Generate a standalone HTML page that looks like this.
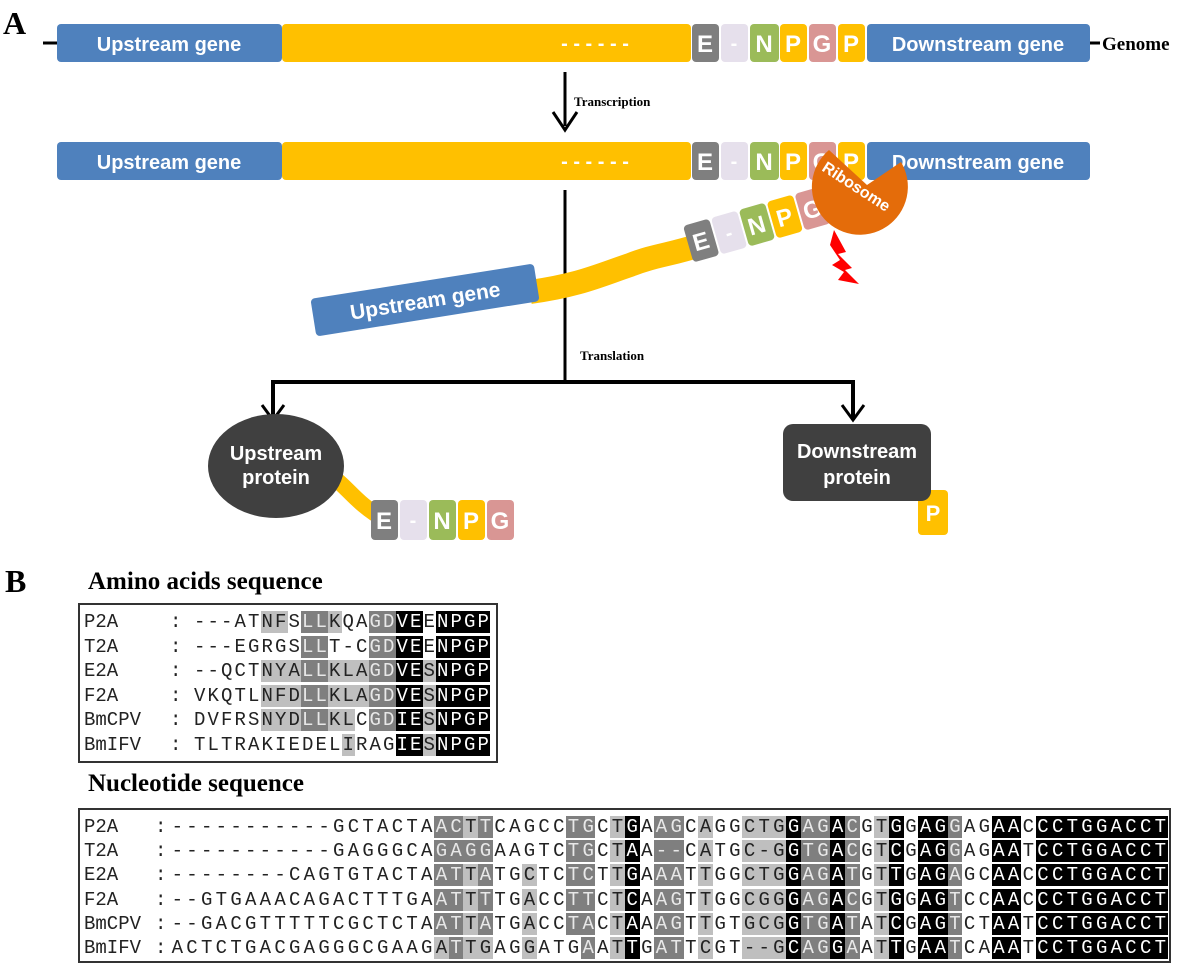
<!DOCTYPE html>
<html><head><meta charset="utf-8">
<style>
body{margin:0;background:#fff;}
#wrap{position:relative;width:1200px;height:972px;overflow:hidden;background:#fff;}
svg{position:absolute;left:0;top:0;}
.h{position:absolute;font-family:"Liberation Serif",serif;font-weight:bold;color:#000;}
.box{position:absolute;border:2px solid #333;box-sizing:border-box;}
.row{position:absolute;font-family:"Liberation Mono",monospace;color:#222;white-space:pre;}
.row span{display:inline-block;text-align:center;height:100%;}
.k{background:#000;color:#fff;}
.d{background:#7f7f7f;color:#e8e8e8;}
.l{background:#bfbfbf;}
</style></head><body><div id="wrap">
<svg width="1200" height="972" viewBox="0 0 1200 972" font-family="'Liberation Sans Narrow','Liberation Sans',sans-serif">
<text x="3" y="34" font-family="'Liberation Serif',serif" font-weight="bold" font-size="32">A</text>
<line x1="43" y1="43" x2="57" y2="43" stroke="#000" stroke-width="3"/>
<line x1="1090" y1="43" x2="1100" y2="43" stroke="#000" stroke-width="3"/>
<text x="1102" y="50" font-family="'Liberation Serif',serif" font-weight="bold" font-size="19">Genome</text>
<g id="r1">
<rect x="57" y="24" width="225" height="38" rx="4" fill="#4f81bd"/>
<text x="169" y="51" fill="#fff" font-size="20" font-weight="bold" text-anchor="middle">Upstream gene</text>
<rect x="282" y="24" width="409" height="38" rx="4" fill="#ffc000"/>
<text x="595" y="50" fill="#fff" font-size="20" font-weight="bold" text-anchor="middle">- - - - - -</text>
<rect x="692" y="24" width="27" height="38" rx="4" fill="#7f7f7f"/><text x="705" y="52" fill="#fff" font-size="24" font-weight="bold" text-anchor="middle">E</text>
<rect x="721" y="24" width="27" height="38" rx="4" fill="#e6e0ec"/><text x="734" y="50" fill="#fff" font-size="20" font-weight="bold" text-anchor="middle">-</text>
<rect x="750" y="24" width="29" height="38" rx="4" fill="#9bbb59"/><text x="764" y="52" fill="#fff" font-size="24" font-weight="bold" text-anchor="middle">N</text>
<rect x="780" y="24" width="27" height="38" rx="4" fill="#ffc000"/><text x="793" y="52" fill="#fff" font-size="24" font-weight="bold" text-anchor="middle">P</text>
<rect x="809" y="24" width="27" height="38" rx="4" fill="#d99694"/><text x="822" y="52" fill="#fff" font-size="24" font-weight="bold" text-anchor="middle">G</text>
<rect x="838" y="24" width="27" height="38" rx="4" fill="#ffc000"/><text x="851" y="52" fill="#fff" font-size="24" font-weight="bold" text-anchor="middle">P</text>
<rect x="867" y="24" width="223" height="38" rx="4" fill="#4f81bd"/>
<text x="978" y="51" fill="#fff" font-size="20" font-weight="bold" text-anchor="middle">Downstream gene</text>
</g>
<use href="#r1" y="118"/>
<line x1="565" y1="72" x2="565" y2="126" stroke="#000" stroke-width="3"/>
<path d="M553 112 L565 130 L577 112" fill="none" stroke="#000" stroke-width="3"/>
<text x="574" y="106" font-family="'Liberation Serif',serif" font-weight="bold" font-size="13">Transcription</text>
<line x1="565" y1="190" x2="565" y2="382" stroke="#000" stroke-width="3"/>
<text x="580" y="360" font-family="'Liberation Serif',serif" font-weight="bold" font-size="13">Translation</text>
<path d="M273 420 L273 382 L853 382 L853 420" fill="none" stroke="#000" stroke-width="4"/>
<path d="M262 405 L273 420 L284 405" fill="none" stroke="#000" stroke-width="3"/>
<path d="M842 405 L853 420 L864 405" fill="none" stroke="#000" stroke-width="3"/>
<path d="M530 292 C580 285 600 275 630 265 C655 255 670 255 700 245" fill="none" stroke="#ffc000" stroke-width="24"/>
<g transform="translate(425,300) rotate(-9)">
<rect x="-113" y="-19" width="226" height="38" rx="4" fill="#4f81bd"/>
<text x="0" y="8" fill="#fff" font-size="21" font-weight="bold" text-anchor="middle">Upstream gene</text>
</g>
<g transform="translate(683,226) rotate(-16)">
<rect x="0" y="0" width="27" height="38" rx="4" fill="#7f7f7f"/><text x="13" y="28" fill="#fff" font-size="24" font-weight="bold" text-anchor="middle">E</text>
<rect x="29" y="0" width="27" height="38" rx="4" fill="#e6e0ec"/><text x="42" y="26" fill="#fff" font-size="20" font-weight="bold" text-anchor="middle">-</text>
<rect x="58" y="0" width="27" height="38" rx="4" fill="#9bbb59"/><text x="71" y="28" fill="#fff" font-size="24" font-weight="bold" text-anchor="middle">N</text>
<rect x="87" y="0" width="27" height="38" rx="4" fill="#ffc000"/><text x="100" y="28" fill="#fff" font-size="24" font-weight="bold" text-anchor="middle">P</text>
<rect x="116" y="0" width="27" height="38" rx="4" fill="#d99694"/><text x="129" y="28" fill="#fff" font-size="24" font-weight="bold" text-anchor="middle">G</text>
</g>
<path d="M867 185 L901 162 A48 48 0 1 1 829 150 Z" fill="#e46c0a"/>
<text transform="translate(821,170) rotate(33)" fill="#fff" font-size="16" font-weight="bold" font-family="'Liberation Sans',sans-serif">Ribosome</text>
<polygon points="834,230 846,252 838,254 852,268 845,270 859,284 838,280 844,272 832,265 840,260 830,245" fill="#ff0000"/>
<path d="M320 470 C345 480 350 500 385 520" fill="none" stroke="#ffc000" stroke-width="16"/>
<ellipse cx="276" cy="466" rx="68" ry="52" fill="#404040"/>
<text x="276" y="460" fill="#fff" font-size="20" font-weight="bold" text-anchor="middle">Upstream</text>
<text x="276" y="484" fill="#fff" font-size="20" font-weight="bold" text-anchor="middle">protein</text>
<g transform="translate(371,500)">
<rect x="0" y="0" width="27" height="40" rx="4" fill="#7f7f7f"/><text x="13" y="29" fill="#fff" font-size="24" font-weight="bold" text-anchor="middle">E</text>
<rect x="29" y="0" width="27" height="40" rx="4" fill="#e6e0ec"/><text x="42" y="27" fill="#fff" font-size="20" font-weight="bold" text-anchor="middle">-</text>
<rect x="58" y="0" width="27" height="40" rx="4" fill="#9bbb59"/><text x="71" y="29" fill="#fff" font-size="24" font-weight="bold" text-anchor="middle">N</text>
<rect x="87" y="0" width="27" height="40" rx="4" fill="#ffc000"/><text x="100" y="29" fill="#fff" font-size="24" font-weight="bold" text-anchor="middle">P</text>
<rect x="116" y="0" width="27" height="40" rx="4" fill="#d99694"/><text x="129" y="29" fill="#fff" font-size="24" font-weight="bold" text-anchor="middle">G</text>
</g>
<rect x="918" y="490" width="30" height="45" rx="4" fill="#ffc000"/>
<text x="933" y="521" fill="#fff" font-size="22" font-weight="bold" text-anchor="middle">P</text>
<rect x="783" y="424" width="148" height="77" rx="10" fill="#404040"/>
<text x="857" y="458" fill="#fff" font-size="20" font-weight="bold" text-anchor="middle">Downstream</text>
<text x="857" y="484" fill="#fff" font-size="20" font-weight="bold" text-anchor="middle">protein</text>
<text x="5" y="592" font-family="'Liberation Serif',serif" font-weight="bold" font-size="32">B</text>
</svg>
<div class="h" style="left:88px;top:568px;font-size:25px;">Amino acids sequence</div>
<div class="box" style="left:78px;top:603px;width:420px;height:160px;"></div>
<div class="h" style="left:88px;top:770px;font-size:25px;">Nucleotide sequence</div>
<div class="box" style="left:78px;top:808px;width:1093px;height:155px;"></div>
<div id="aa"></div><div id="nt"></div>
</div>
<script>
function build(cont,rows,shade,x0,colonX,seqX,cw,y0,dy,fs,h){
 var c=document.getElementById(cont);
 rows.forEach(function(r,i){
  var y=y0+i*dy;
  var lab=document.createElement('div');lab.className='row';lab.style.cssText='left:84px;top:'+y+'px;font-size:'+fs+'px;line-height:'+h+'px;';lab.textContent=r[0];c.appendChild(lab);
  var co=document.createElement('div');co.className='row';co.style.cssText='left:'+colonX+'px;top:'+y+'px;font-size:'+fs+'px;line-height:'+h+'px;';co.textContent=':';c.appendChild(co);
  var s=document.createElement('div');s.className='row';s.style.cssText='left:'+seqX+'px;top:'+y+'px;height:'+h+'px;font-size:'+fs+'px;line-height:'+h+'px;';
  var html='';for(var j=0;j<r[1].length;j++){var cl=shade[i][j]||'.';html+='<span'+(cl!='.'?' class="'+cl+'"':'')+' style="width:'+cw+'px">'+r[1][j]+'</span>';}
  s.innerHTML=html;c.appendChild(s);
 });
}
var aa=[["P2A","---ATNFSLLKQAGDVEENPGP"],["T2A","---EGRGSLLT-CGDVEENPGP"],["E2A","--QCTNYALLKLAGDVESNPGP"],["F2A","VKQTLNFDLLKLAGDVESNPGP"],["BmCPV","DVFRSNYDLLKLCGDIESNPGP"],["BmIFV","TLTRAKIEDELIRAGIESNPGP"]];
var aas=[".....ll.ddl..ddkk.kkkk","........dd...ddkk.kkkk",".....lllddlllddkklkkkk",".....lllddlllddkklkkkk",".....lllddll.ddkklkkkk","...........l...kklkkkk"];
build('aa',aa,aas,84,170,193,13.5,611,24.6,19,22);
var nt=[["P2A","-----------GCTACTAACTTCAGCCTGCTGAAGCAGGCTGGAGACGTGGAGGAGAACCCTGGACCT"],["T2A","-----------GAGGGCAGAGGAAGTCTGCTAA--CATGC-GGTGACGTCGAGGAGAATCCTGGACCT"],["E2A","--------CAGTGTACTAATTATGCTCTCTTGAAATTGGCTGGAGATGTTGAGAGCAACCCTGGACCT"],["F2A","--GTGAAACAGACTTTGAATTTTGACCTTCTCAAGTTGGCGGGAGACGTGGAGTCCAACCCTGGACCT"],["BmCPV","--GACGTTTTTCGCTCTAATTATGACCTACTAAAGTTGTGCGGTGATATCGAGTCTAATCCTGGACCT"],["BmIFV","ACTCTGACGAGGGCGAAGATTGAGGATGAATTGATTCGT--GCAGGAATTGAATCAAATCCTGGACCT"]];
var base="..................ddld..l..dd.lk.dd.l..lllkddkd.lk.kkd..kk.kkkkkkkkk";
var nts=[];for(var i=0;i<6;i++){var b=base.split('');if(i==0)b[24]='.';if(i==1){b[24]='.';b[20]='d';}if(i==5){b[18]='l';b[19]='d';b[21]='l';b[27]='.';b[28]='d';}nts.push(b.join(''));}
build('nt',nt,nts,84,155,170,14.68,816,24.2,19,22);
</script>
</body></html>
